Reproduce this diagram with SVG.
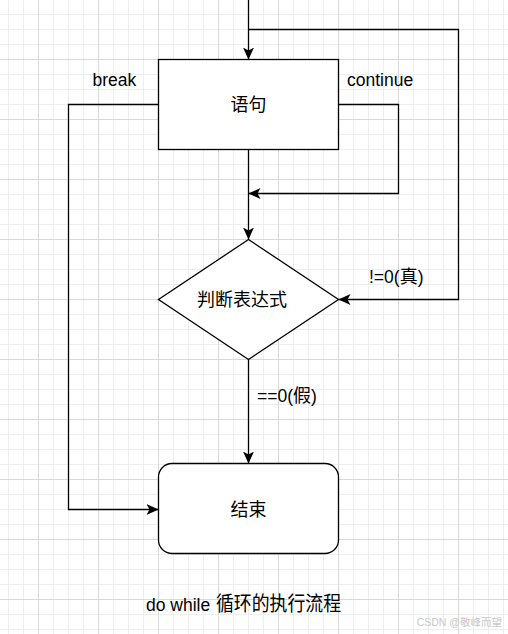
<svg xmlns="http://www.w3.org/2000/svg" width="508" height="634" viewBox="0 0 508 634">
<style>
.shape{fill:#ffffff;stroke:#000000;stroke-width:1.3}
.edge{fill:none;stroke:#000000;stroke-width:1.3}
.t{font-family:"Liberation Sans","Noto Sans CJK SC",sans-serif;font-size:17.5px;fill:#000000}
.c{font-family:"Noto Sans CJK SC","Liberation Sans",sans-serif;font-size:18px;fill:#000000}
</style>
<defs>
<pattern id="grid" patternUnits="userSpaceOnUse" x="38" y="59" width="60" height="60">
<path d="M15.5 0V60M30.5 0V60M45.5 0V60M0 15.5H60M0 30.5H60M0 45.5H60" stroke="#eeeeee" stroke-width="1" fill="none"/>
<path d="M0.5 0V60M0 0.5H60" stroke="#d9d9d9" stroke-width="1" fill="none"/>
</pattern>
<marker id="arrow" markerUnits="userSpaceOnUse" markerWidth="14" markerHeight="12" refX="12" refY="6" orient="auto" viewBox="0 0 14 12">
<path d="M0,0.5 L12,6 L0,11.5 L3,6 Z" fill="#000000"/>
</marker>
</defs>
<rect x="0" y="0" width="508" height="634" fill="#ffffff"/>
<rect x="0" y="0" width="508" height="634" fill="url(#grid)"/>
<g id="connectors">
<path class="edge" d="M248.5 0V59.5" marker-end="url(#arrow)"/>
<path class="edge" d="M248.5 29.5H458.5V299.5H338.5" marker-end="url(#arrow)"/>
<path class="edge" d="M158.5 104.5H68.5V509.5H158.5" marker-end="url(#arrow)"/>
<path class="edge" d="M338.5 104.5H398.5V193.5H248.5" marker-end="url(#arrow)"/>
<path class="edge" d="M248.5 149.5V239.5" marker-end="url(#arrow)"/>
<path class="edge" d="M248.5 359.5V463.5" marker-end="url(#arrow)"/>
<text class="t" x="92.5" y="86">break</text>
<text class="t" x="347" y="86">continue</text>
<text class="t" x="369" y="283">!=0(<tspan class="c">真</tspan>)</text>
<text class="t" x="257" y="402">==0(<tspan class="c">假</tspan>)</text>
</g>
<g id="node-statement">
<rect class="shape" x="158.5" y="59.5" width="180" height="90"/>
<text class="c" x="248.5" y="110.5" text-anchor="middle">语句</text>
</g>
<g id="node-condition">
<polygon class="shape" points="248.5,239.5 338.5,299.5 248.5,359.5 158.5,299.5"/>
<text class="c" x="242" y="305.5" text-anchor="middle">判断表达式</text>
</g>
<g id="node-end">
<rect class="shape" x="158.5" y="463.5" width="180" height="90" rx="13.5" ry="13.5"/>
<text class="c" x="248.5" y="515.5" text-anchor="middle">结束</text>
</g>
<g id="caption">
<text class="t" x="146" y="611">do while</text>
<text x="216" y="611" textLength="125" lengthAdjust="spacingAndGlyphs" style="font-family:'Noto Sans CJK SC',sans-serif;font-size:20px;fill:#000000">循环的执行流程</text>
<text x="502" y="626" text-anchor="end" style="font-family:'Liberation Sans','Noto Sans CJK SC',sans-serif;font-size:10.5px;fill:#c8c8c8">CSDN @敬峰而望</text>
</g>
</svg>
